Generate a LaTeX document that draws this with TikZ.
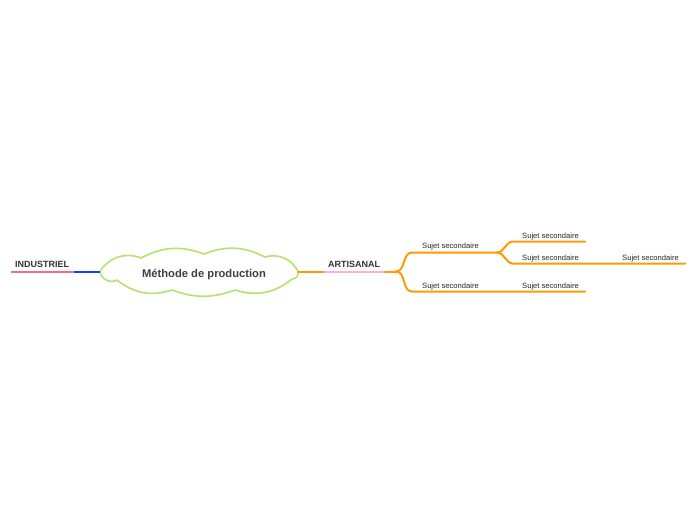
\documentclass[tikz,border=0pt]{standalone}
\usepackage{fontspec}
\setmainfont{Liberation Sans}
\definecolor{orangebr}{HTML}{FF9A00}
\definecolor{rosebr}{HTML}{EE6D98}
\definecolor{bleubr}{HTML}{0A48F0}
\definecolor{rosepale}{HTML}{F5B3E8}
\definecolor{vertnuage}{HTML}{B8E070}
\definecolor{texte}{HTML}{333333}
\begin{document}
\begin{tikzpicture}[x=1pt,y=-1pt]
\tikzset{ast/.style={line width=2pt,orangebr,line cap=round},
  nuage/.style={draw=vertnuage,line width=1.6pt,line join=round,fill=white},
  titre/.style={font=\bfseries\fontsize{9}{10}\selectfont,text=texte,inner sep=0pt,anchor=base west},
  sujet/.style={font=\fontsize{7.6}{9}\selectfont,text=black!85,inner sep=0pt,anchor=base west}}
\useasboundingbox (0,0) rectangle (696,520);
% nuage central
\coordinate (nw) at (100,271.5);
\coordinate (c1) at (141,258);
\coordinate (c2) at (204,254);
\coordinate (c3) at (265,257);
\coordinate (ne) at (298,271.5);
\coordinate (c5) at (292,279);
\coordinate (c6) at (235,290);
\coordinate (c7) at (172,290);
\coordinate (c8) at (117,280);
\draw[nuage] (nw) to[bend left=40] (c1) to[bend left=24] (c2) to[bend left=24] (c3) to[bend left=40] (ne) to[bend left=60] (c5) to[bend left=28] (c6) to[bend left=20] (c7) to[bend left=28] (c8) to[bend left=60] (nw) -- cycle;
\node [font=\bfseries\fontsize{11.2}{13}\selectfont,text=black!75] (root) at (204,274.5) {Méthode de production};
% gauche
\coordinate (i0) at (11,271.5);
\coordinate (i1) at (74,271.5);
\node [titre] (indus) at (15,267) {INDUSTRIEL};
\draw[line width=2pt,rosebr] (i0) to (i1);
\draw[line width=2pt,bleubr] (i1) to (nw);
% droite
\coordinate (a0) at (324,271.5);
\coordinate (a1) at (385,271.5);
\coordinate (a2) at (396,271.5);
\node [titre] (artis) at (328,267) {ARTISANAL};
\draw[ast] (ne) to (a0);
\draw[line width=2pt,rosepale] (a0) to (a1);
\draw[ast] (a1) to (a2);
\coordinate (s1a) at (412,252.5);
\coordinate (s1b) at (497,252.5);
\coordinate (s2a) at (412,291.5);
\coordinate (s2b) at (497,291.5);
\coordinate (s2c) at (585,291.5);
\draw[ast] (a2) to[out=0,in=180] (s1a) to (s1b);
\draw[ast] (a2) to[out=0,in=180] (s2a) to (s2b) to (s2c);
\coordinate (t1a) at (513,241.5);
\coordinate (t1b) at (585,241.5);
\coordinate (t2a) at (513,263.5);
\coordinate (t2b) at (685,263.5);
\draw[ast] (s1b) to[out=0,in=180] (t1a) to (t1b);
\draw[ast] (s1b) to[out=0,in=180] (t2a) to (t2b);
\node [sujet] (s1) at (422,248) {Sujet secondaire};
\node [sujet] (s2) at (422,288) {Sujet secondaire};
\node [sujet] (s21) at (522,288) {Sujet secondaire};
\node [sujet] (t1) at (522,238) {Sujet secondaire};
\node [sujet] (t2) at (522,260) {Sujet secondaire};
\node [sujet] (t21) at (622,260) {Sujet secondaire};
\end{tikzpicture}
\end{document}
